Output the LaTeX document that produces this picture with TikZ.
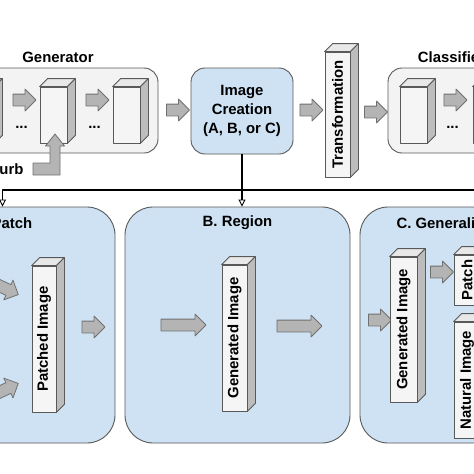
\documentclass[tikz,border=0pt]{standalone}
\usepackage{fontspec}
\setmainfont{Liberation Sans}
\usetikzlibrary{arrows.meta, shapes.arrows, positioning}

\definecolor{edgegray}{HTML}{595959}
\definecolor{panelgray}{HTML}{F3F3F3}
\definecolor{panelblue}{HTML}{CFE2F3}
\definecolor{facegray}{HTML}{F5F5F5}
\definecolor{topgray}{HTML}{E8E8E8}
\definecolor{sidegray}{HTML}{BDBDBD}
\definecolor{arrowgray}{HTML}{B4B4B4}
\definecolor{arrowedge}{HTML}{707070}

% top and side faces of a box node
\newcommand{\cubedepth}[1]{%
  \filldraw[fill=topgray, draw=edgegray, line width=0.8pt] (#1.north west) -- ++(8,-8)
    -- ([shift={(8,-8)}]#1.north east) -- (#1.north east) -- cycle;
  \filldraw[fill=sidegray, draw=edgegray, line width=0.8pt] (#1.north east)
    -- ([shift={(8,-8)}]#1.north east) -- ([shift={(8,-8)}]#1.south east) -- (#1.south east) -- cycle;}

\begin{document}
\begin{tikzpicture}[x=1pt, y=-1pt, line join=round,
  every node/.style={font=\fontsize{14.9}{19}\selectfont\bfseries},
  gray panel/.style={rectangle, rounded corners=14pt, draw=edgegray, fill=panelgray, line width=0.9pt, inner sep=0pt},
  blue panel/.style={rectangle, rounded corners=28pt, draw=edgegray, fill=panelblue, line width=0.9pt, inner sep=0pt},
  cube face/.style={rectangle, draw=edgegray, fill=facegray, line width=0.8pt, inner sep=0pt},
  fat arrow/.style={single arrow, draw=arrowedge, fill=arrowgray, line width=0.8pt, inner xsep=0pt,
    inner ysep=5.5pt, single arrow head extend=5pt, minimum height=23pt},
  link/.style={draw=black, line width=1.1pt},
  tip/.style={-{Triangle[open, length=7pt, width=7pt, line width=0.9pt]}}]
  \useasboundingbox (0,0) rectangle (474,474);
  \clip (0,0) rectangle (474,474);
  \fill[white] (0,0) rectangle (474,474);

  % top row
  \node[gray panel, minimum width=200pt, minimum height=85pt] (gen) at (58,110.5) {};
  \node (gentitle) at (58,57) {Generator};
  \node[cube face, minimum width=27pt, minimum height=56pt] (g1) at (-19.5,115) {};
  \node[cube face, minimum width=27pt, minimum height=56pt] (g2) at (53.5,115) {};
  \node[cube face, minimum width=27pt, minimum height=56pt] (g3) at (126.5,115) {};
  \cubedepth{g1} \cubedepth{g2} \cubedepth{g3}
  \node[fat arrow] (ga1) at (21.5,100) {};
  \node[fat arrow] (ga2) at (94.5,100) {};
  \node (gd1) at (21.5,127) {...};
  \node (gd2) at (94.5,127) {...};
  \node[anchor=east] (perturb) at (27,169) {Perturb};
  \filldraw[fill=arrowgray, draw=arrowedge, line width=0.8pt] (33,163) -- (50,163) -- (50,146)
    -- (45.5,146) -- (55,134) -- (64.5,146) -- (60,146) -- (60,175) -- (33,175) -- cycle;

  \node[fat arrow] (a1) at (175,110) {};
  \node[blue panel, rounded corners=14pt, minimum width=102pt, minimum height=86pt, align=center]
    (ic) at (242,111) {Image\\Creation\\(A, B, or C)};
  \node[fat arrow] (a2) at (308.5,110) {};
  \node[cube face, minimum width=25pt, minimum height=125pt] (tr) at (337.5,114.5) {};
  \cubedepth{tr}
  \node[rotate=90] (trtext) at (tr) {Transformation};
  \node[fat arrow] (a3) at (373,112) {};

  \node[gray panel, minimum width=127pt, minimum height=85pt] (cls) at (451.5,110.5) {};
  \node (clstitle) at (451.5,57) {Classifier};
  \node[cube face, minimum width=27pt, minimum height=56pt] (c1) at (413.5,115) {};
  \node[cube face, minimum width=27pt, minimum height=56pt] (c2) at (486.5,115) {};
  \cubedepth{c1} \cubedepth{c2}
  \node[fat arrow] (ca1) at (452.5,100) {};
  \node (cd1) at (452.5,127) {...};

  % bottom row
  \node[blue panel, minimum width=225pt, minimum height=236pt] (boxA) at (2.5,325) {};
  \node[blue panel, minimum width=225pt, minimum height=236pt] (boxB) at (237.5,325) {};
  \node[blue panel, minimum width=240pt, minimum height=236pt] (boxC) at (480,325) {};
  \node (atitle) at (2.5,223) {A. Patch};
  \node (btitle) at (237.5,223) {B. Region};
  \node[anchor=west] (ctitle) at (393,223) {C. Generalization};

  \node[fat arrow, rotate=-25, minimum height=30pt] (aa1) at (2,287) {};
  \node[fat arrow, rotate=25, minimum height=30pt] (aa2) at (2,391) {};
  \node[cube face, minimum width=24pt, minimum height=146pt] (pimg) at (44,339) {};
  \cubedepth{pimg}
  \node[rotate=90] (pimgtext) at (pimg) {Patched Image};
  \node[fat arrow] (aa3) at (90.5,327) {};

  \node[fat arrow, minimum height=45pt] (ba1) at (180.5,325) {};
  \node[cube face, minimum width=25pt, minimum height=146pt] (gimgB) at (234.5,338) {};
  \cubedepth{gimgB}
  \node[rotate=90] (gimgBtext) at (gimgB) {Generated Image};
  \node[fat arrow, minimum height=45pt] (ba2) at (296.5,326) {};

  \node[fat arrow] (cc1) at (377,320) {};
  \node[cube face, minimum width=27pt, minimum height=145pt] (gimgC) at (403.5,329.5) {};
  \cubedepth{gimgC}
  \node[rotate=90] (gimgCtext) at (gimgC) {Generated Image};
  \node[fat arrow] (cc2) at (439,272) {};
  \node[cube face, minimum width=26pt, minimum height=50pt] (patch) at (467,280) {};
  \cubedepth{patch}
  \node[rotate=90] (patchtext) at (patch) {Patch};
  \node[cube face, minimum width=26pt, minimum height=116pt] (nat) at (467,380) {};
  \cubedepth{nat}
  \node[rotate=90] (nattext) at (nat) {Natural Image};

  % links from image creation
  \coordinate (rail) at (0,190);
  \coordinate (split) at (ic.south |- rail);
  \draw[link] (ic.south) -- (split);
  \draw[link, tip] (split) -- (split |- boxB.north);
  \draw[link, tip] (split) -| (boxA.north);
  \draw[link, tip] (split) -| (boxC.north);
\end{tikzpicture}
\end{document}
